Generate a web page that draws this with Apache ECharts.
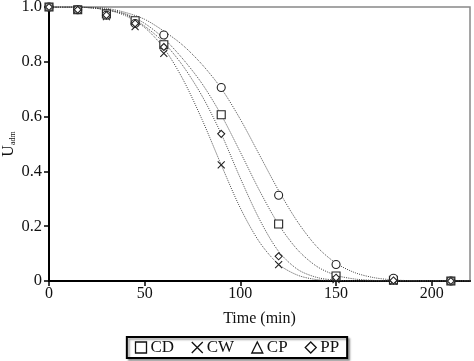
<!DOCTYPE html>
<html>
<head>
<meta charset="utf-8">
<script src="https://cdn.jsdelivr.net/npm/echarts@6/dist/echarts.min.js"></script>
<style>html,body{margin:0;padding:0;background:#fff}#c{width:474px;height:361px}</style>
</head>
<body>
<div id="c"></div>
<script>
// measured points
const time = [0, 15, 30, 45, 60, 90, 120, 150, 180, 210];
const CD = [1.0, 0.99, 0.975, 0.95, 0.862, 0.607, 0.208, 0.018, 0.003, 0.0];
const CW = [1.0, 0.99, 0.965, 0.928, 0.831, 0.424, 0.060, 0.005, 0.0, 0.0];
const CP = [1.0, 0.99, 0.97, 0.94, 0.898, 0.706, 0.313, 0.060, 0.010, 0.0];
const PP = [1.0, 0.99, 0.97, 0.94, 0.854, 0.537, 0.090, 0.012, 0.002, 0.0];

// fitted curves
const curveTime = [0, 10, 20, 30, 40, 50, 60, 70, 80, 90, 100, 110, 120, 130, 140, 150, 160, 170, 180, 190, 200, 210, 220];
const fitCP = [1, 1, 0.999, 0.995, 0.98, 0.955, 0.912, 0.86, 0.79, 0.703, 0.59, 0.46, 0.33, 0.215, 0.125, 0.065, 0.03, 0.012, 0.004, 0.001, 0, 0, 0];
const fitCD = [1, 1, 0.998, 0.99, 0.975, 0.94, 0.885, 0.81, 0.72, 0.606, 0.47, 0.33, 0.206, 0.113, 0.053, 0.021, 0.007, 0.002, 0, 0, 0, 0, 0];
const fitPP = [1, 1, 0.998, 0.99, 0.972, 0.93, 0.87, 0.785, 0.675, 0.537, 0.375, 0.225, 0.108, 0.042, 0.013, 0.003, 0, 0, 0, 0, 0, 0, 0];
const fitCW = [1, 1, 0.998, 0.99, 0.968, 0.925, 0.85, 0.736, 0.589, 0.424, 0.266, 0.142, 0.061, 0.021, 0.005, 0.001, 0, 0, 0, 0, 0, 0, 0];

const xTicks = [0, 50, 100, 150, 200];
const yTicks = [0, 0.2, 0.4, 0.6, 0.8, 1.0];

const font = 'Liberation Serif, Times New Roman, serif';
const xPath = 'path://M0,0L10,10M10,0L0,10';
const zip = (a, b) => a.map((v, i) => [v, b[i]]);

function pts(name, vals, symbol, size) {
  return {
    name: name, type: 'scatter', data: zip(time, vals), symbol: symbol, symbolSize: size,
    clip: false, z: 5,
    itemStyle: { color: symbol === xPath ? 'rgba(0,0,0,0)' : '#fff', borderColor: '#222', borderWidth: 1.1, opacity: 1 }
  };
}
function fit(vals) {
  return {
    type: 'line', data: zip(curveTime, vals), showSymbol: false, smooth: 0.3, silent: true, z: 2,
    lineStyle: { color: '#444', width: 1, type: [1, 1.2] }
  };
}

const chart = echarts.init(document.getElementById('c'), null, { renderer: 'canvas' });
chart.setOption({
  animation: false,
  backgroundColor: '#fff',
  grid: { left: 49, right: 4, top: 7, bottom: 80, outerBoundsMode: 'none', containLabel: false,
    show: true, borderColor: '#888', borderWidth: 1.5, backgroundColor: 'transparent' },
  xAxis: {
    type: 'value', min: 0, max: 220, interval: 50,
    name: 'Time (min)', nameLocation: 'middle', nameGap: 30,
    nameTextStyle: { fontFamily: font, fontSize: 16, color: '#111' },
    axisLine: { show: true, lineStyle: { color: '#000', width: 2 } },
    axisTick: { show: true, length: 5, lineStyle: { color: '#000', width: 1.5 }, customValues: xTicks },
    axisLabel: { fontFamily: font, fontSize: 16, color: '#111', margin: 5, customValues: xTicks },
    splitLine: { show: false }
  },
  yAxis: {
    type: 'value', min: 0, max: 1, interval: 0.2,
    name: '{u|U}{s|adm}', nameLocation: 'middle', nameGap: 32, nameRotate: 90, nameMoveOverlap: false,
    nameTextStyle: { fontFamily: font, color: '#111',
      rich: { u: { fontFamily: font, fontSize: 16, color: '#111' }, s: { fontFamily: font, fontSize: 8, color: '#111', padding: [7, 0, 0, 0] } } },
    axisLine: { show: true, lineStyle: { color: '#000', width: 2 } },
    axisTick: { show: true, length: 5, lineStyle: { color: '#000', width: 1.5 }, customValues: yTicks },
    axisLabel: { fontFamily: font, fontSize: 16.5, color: '#111', margin: 7, customValues: yTicks,
      formatter: v => v === 0 ? '0' : v.toFixed(1) },
    splitLine: { show: false }
  },
  legend: {
    data: [
      { name: 'CD', icon: 'rect' },
      { name: 'CW', icon: xPath },
      { name: 'CP', icon: 'triangle' },
      { name: 'PP', icon: 'diamond' }
    ],
    left: 'center', bottom: 3, orient: 'horizontal',
    itemWidth: 11, itemHeight: 11, itemGap: 17,
    borderColor: '#000', borderWidth: 2, padding: [2, 8, 2, 8],
    shadowColor: 'rgba(0,0,0,0.35)', shadowOffsetX: 2, shadowOffsetY: 2, shadowBlur: 2,
    backgroundColor: '#fff',
    textStyle: { fontFamily: font, fontSize: 17, color: '#111', padding: [0, 0, 0, -1] },
    itemStyle: { color: '#fff', borderColor: '#111', borderWidth: 1.3 }
  },
  series: [
    fit(fitCP), fit(fitCD), fit(fitPP), fit(fitCW),
    pts('CD', CD, 'rect', 8),
    pts('CW', CW, xPath, 7),
    pts('CP', CP, 'circle', 8),
    pts('PP', PP, 'diamond', 7)
  ]
});
</script>
</body>
</html>
